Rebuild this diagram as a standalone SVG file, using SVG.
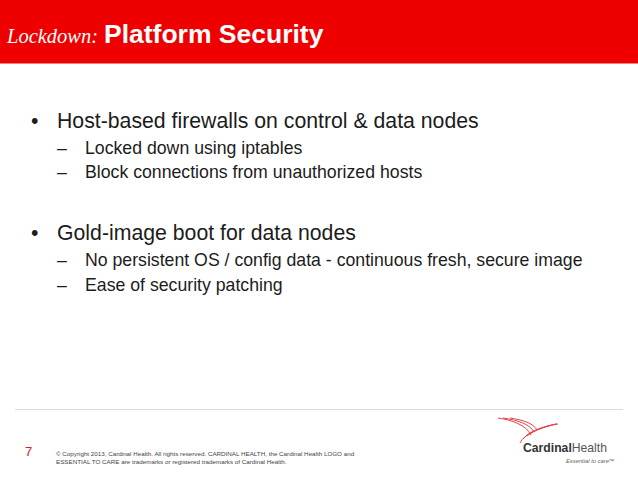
<svg xmlns="http://www.w3.org/2000/svg" width="638" height="478" viewBox="0 0 638 478">
<style>
.l1{font:21.25px "Liberation Sans",Arial,sans-serif;fill:#1c1c1c}
.l2{font:17.7px "Liberation Sans",Arial,sans-serif;fill:#1c1c1c}
.fn{font:6.25px "Liberation Sans",Arial,sans-serif;fill:#444}
.w{fill:none;stroke:#e2434b;stroke-width:1}
</style>
<rect width="638" height="478" fill="#fff"/>
<rect id="banner" width="638" height="63.5" fill="#ee0000"/>
<text x="7" y="43" font-family="'Liberation Serif',serif" font-style="italic" font-size="20.5" fill="#fff">Lockdown:</text>
<text x="104" y="43" font-family="'Liberation Sans',Arial,sans-serif" font-weight="bold" font-size="26.5" fill="#fff">Platform Security</text>
<text class="l1" x="31" y="128">•</text>
<text class="l1" x="57" y="128">Host-based firewalls on control &amp; data nodes</text>
<text class="l2" x="57" y="154">–</text>
<text class="l2" x="85" y="154">Locked down using iptables</text>
<text class="l2" x="57" y="178">–</text>
<text class="l2" x="85" y="178">Block connections from unauthorized hosts</text>
<text class="l1" x="31" y="240">•</text>
<text class="l1" x="57" y="240">Gold-image boot for data nodes</text>
<text class="l2" x="57" y="266">–</text>
<text class="l2" x="85" y="266">No persistent OS / config data - continuous fresh, secure image</text>
<text class="l2" x="57" y="291">–</text>
<text class="l2" x="85" y="291">Ease of security patching</text>
<line x1="15" y1="409.5" x2="623" y2="409.5" stroke="#ddd" stroke-width="1"/>
<text x="25" y="456" font-family="'Liberation Sans',Arial,sans-serif" font-size="13" fill="#d0202c">7</text>
<text class="fn" x="56" y="456">© Copyright 2013, Cardinal Health. All rights reserved. CARDINAL HEALTH, the Cardinal Health LOGO and</text>
<text class="fn" x="56" y="464">ESSENTIAL TO CARE are trademarks or registered trademarks of Cardinal Health.</text>
<g id="logo">
<path class="w" d="M498 418C512 420 526 425 531 435"/>
<path class="w" d="M503 418C517 420 530 424 534 432"/>
<path class="w" d="M510 418C523 420 533 423 537 430"/>
<path class="w" d="M520 443C524 434 542 426 558 424"/>
<path class="w" d="M523 439C529 431 545 426 557 424"/>
<path class="w" d="M527 436C534 430 548 426 556 424"/>
<text x="523" y="452" font-family="'Liberation Sans',Arial,sans-serif" font-size="12.2" fill="#555"><tspan font-weight="bold" fill="#333">Cardinal</tspan>Health</text>
<text x="566" y="463" font-family="'Liberation Sans',Arial,sans-serif" font-size="5.8" font-style="italic" fill="#666">Essential to care™</text>
</g>
</svg>
